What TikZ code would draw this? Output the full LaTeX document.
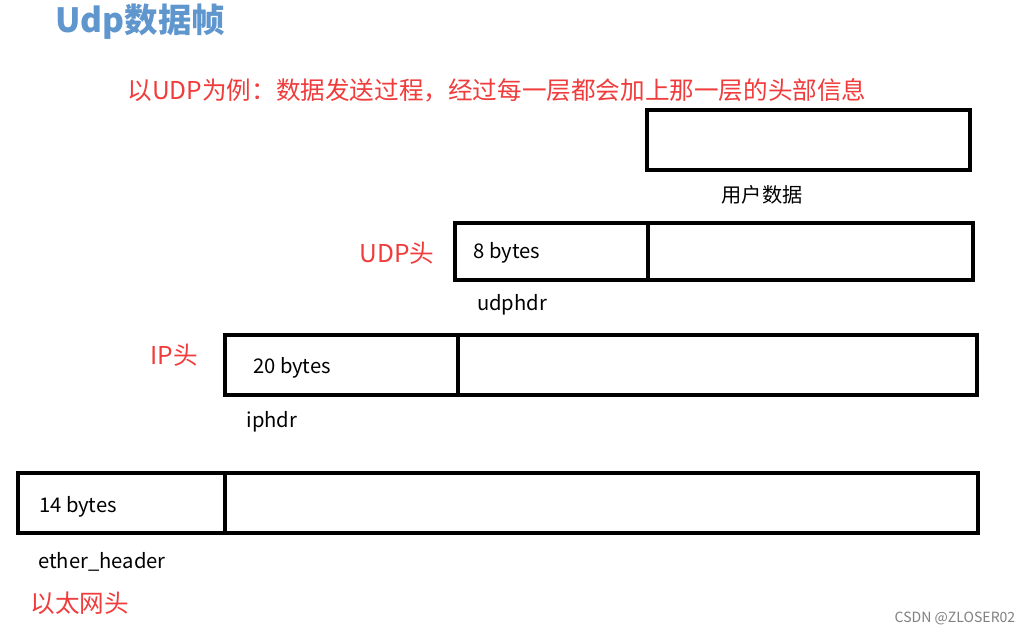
\documentclass[tikz,border=0pt]{standalone}
\usepackage{fontspec}
\setmainfont{Noto Sans CJK SC}
\definecolor{ttl}{RGB}{95,150,205}
\definecolor{rd}{RGB}{240,60,60}
\begin{document}
\begin{tikzpicture}[x=0.02cm,y=-0.02cm,
  bx/.style={draw,line width=2.2pt},
  lb/.style={font=\fontsize{11.5}{13}\selectfont},
  rl/.style={text=rd,font=\fontsize{14}{16}\selectfont}]
\useasboundingbox[fill=white] (0,0) rectangle (1036,634);
\node[text=ttl,font=\fontsize{19}{22}\selectfont\bfseries] (t) at (140,22) {Udp数据帧};
\node[rl] (h) at (497,90) {以UDP为例：数据发送过程，经过每一层都会加上那一层的头部信息};
\draw[bx] (647,110) rectangle (970,170);
\node[lb] (ud) at (762,195) {用户数据};
\draw[bx] (455,223) rectangle (973,280); \draw[bx] (648,223) -- (648,280);
\node[lb] (u8) at (507,253) {8 bytes};
\node[lb] (uh) at (512,305) {udphdr};
\node[rl] (ul) at (397,253) {UDP头};
\draw[bx] (225,335) rectangle (977,395); \draw[bx] (458,335) -- (458,395);
\node[lb] (i20) at (292,368) {20 bytes};
\node[lb] (ih) at (272,422) {iphdr};
\node[rl] (il) at (174,355) {IP头};
\draw[bx] (18,473) rectangle (978,533); \draw[bx] (225,473) -- (225,533);
\node[lb] (e14) at (78,507) {14 bytes};
\node[lb] (eh) at (102,562) {ether\_header};
\node[rl] (el) at (80,603) {以太网头};
\node[text=gray,font=\fontsize{8}{10}\selectfont] (c) at (955,618) {CSDN @ZLOSER02};
\end{tikzpicture}
\end{document}
